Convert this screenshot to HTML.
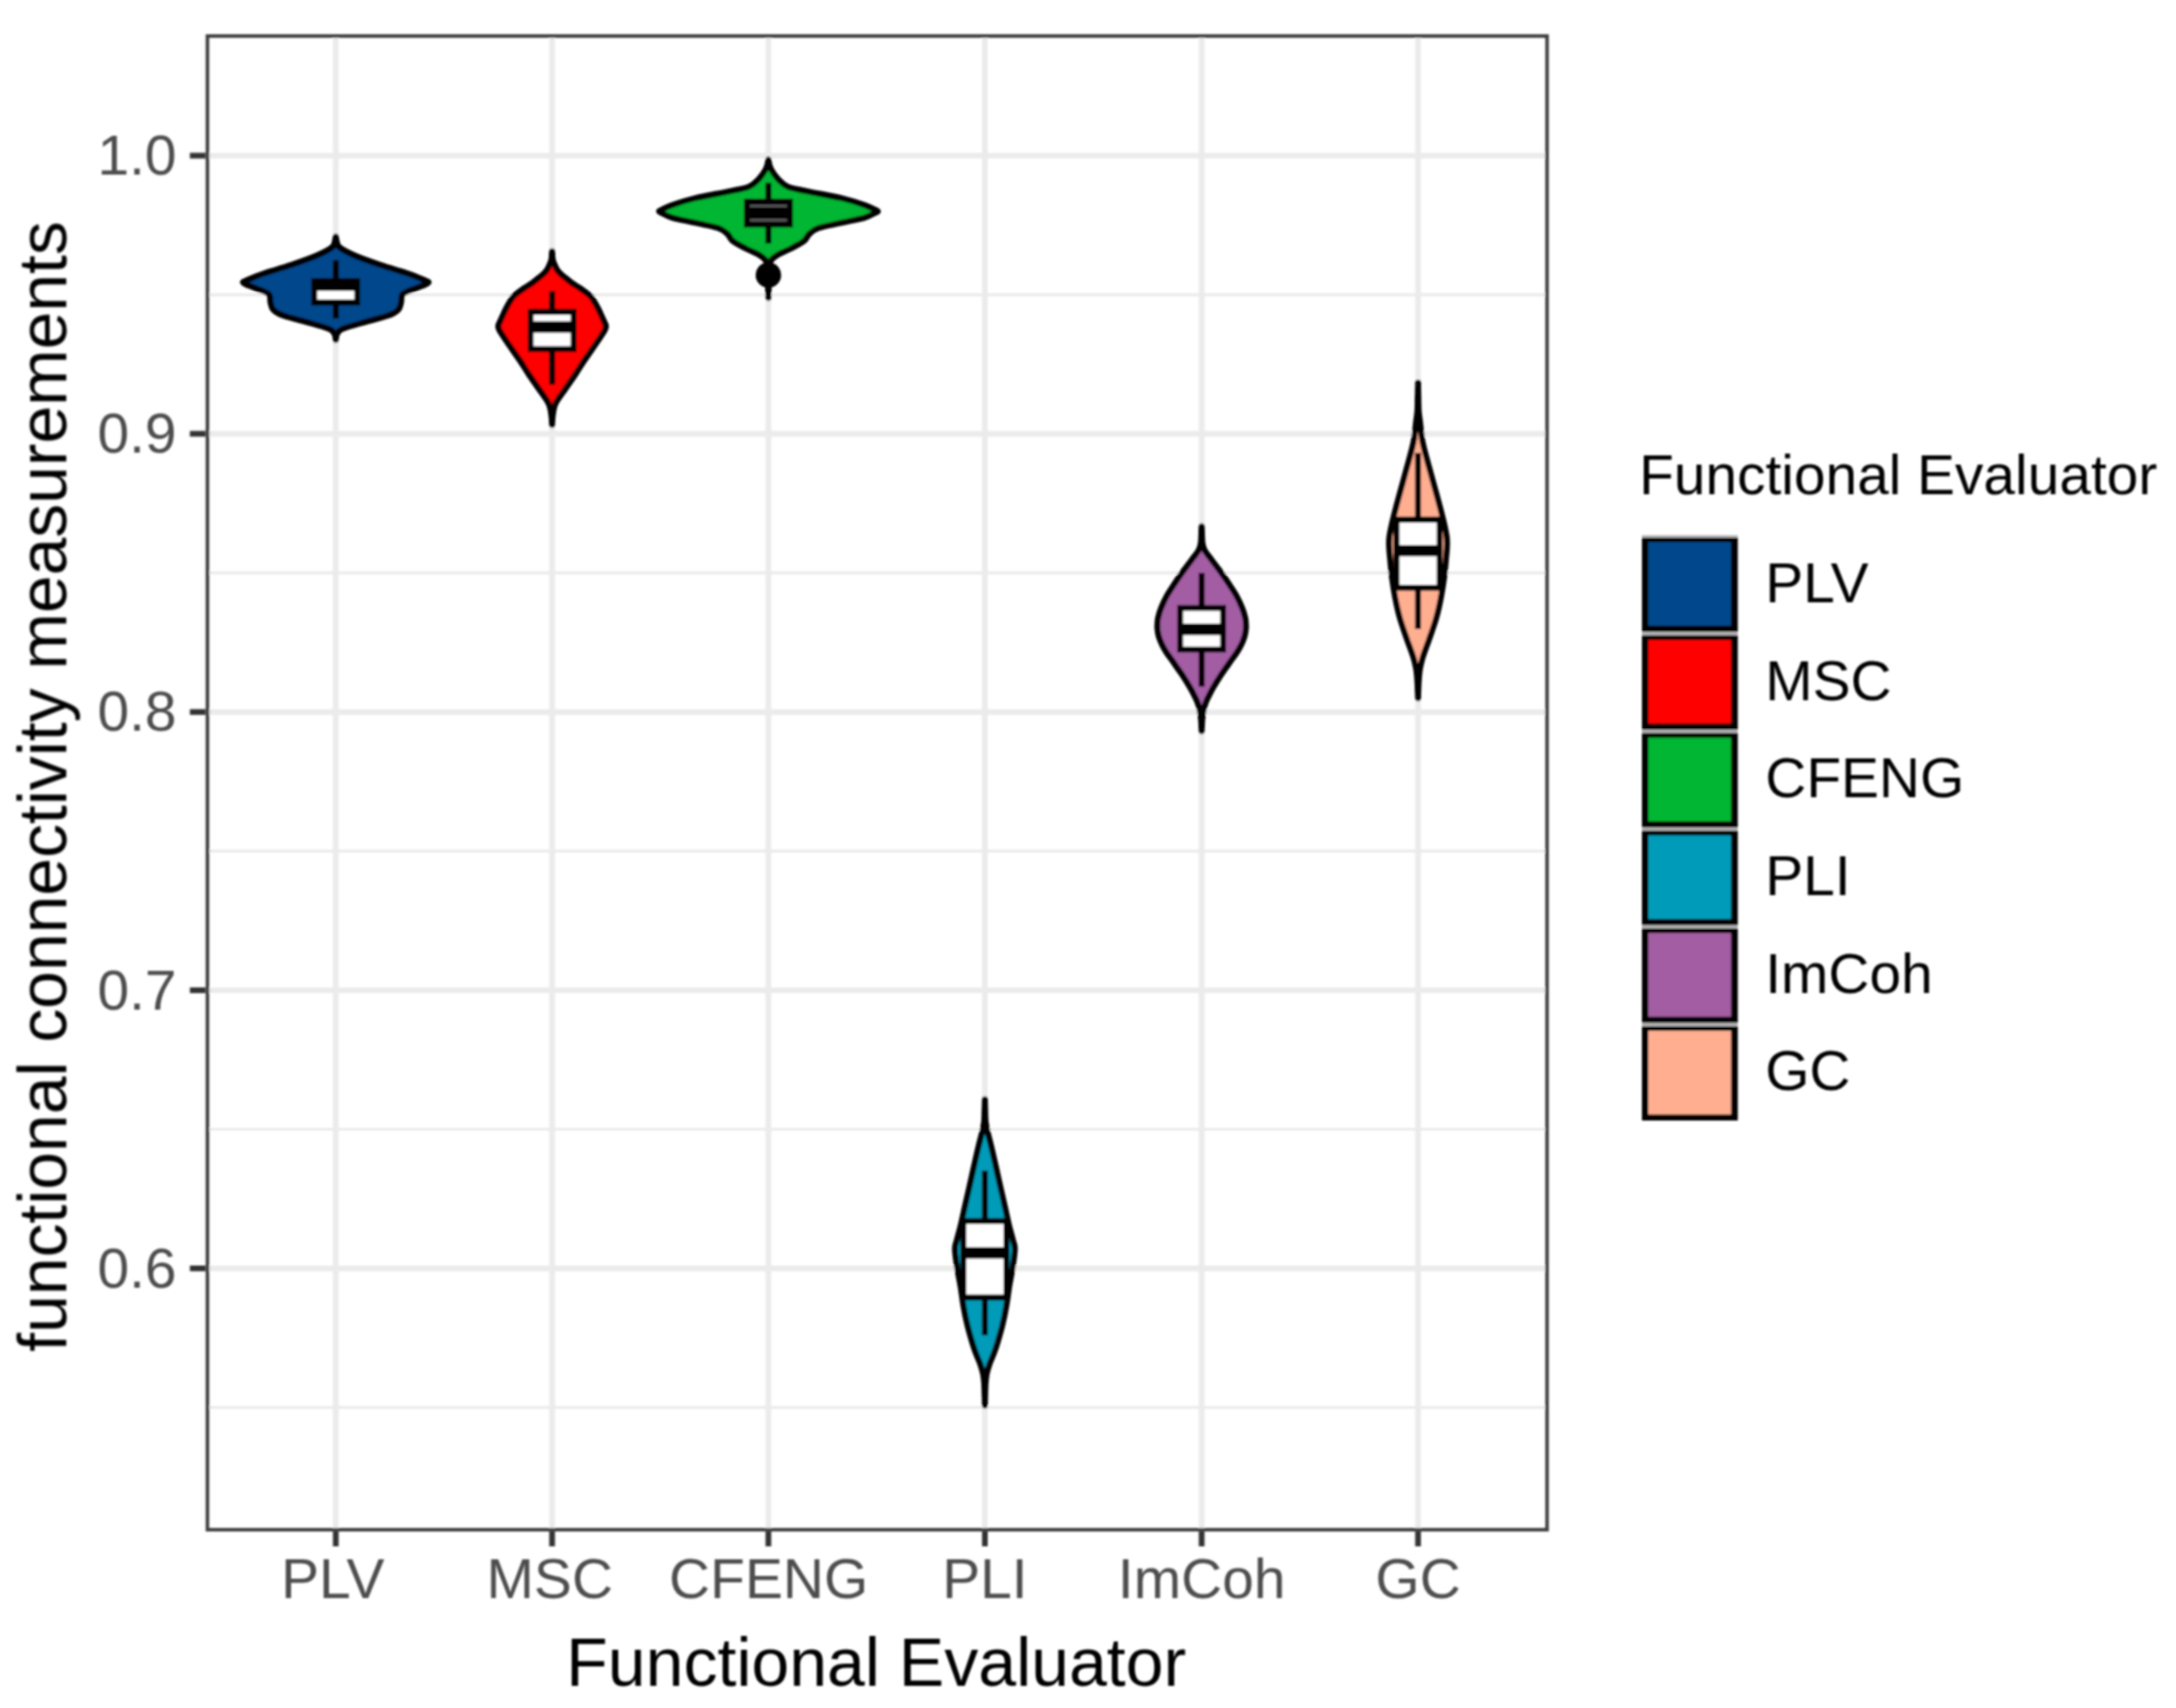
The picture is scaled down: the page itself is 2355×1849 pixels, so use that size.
<!DOCTYPE html>
<html lang="en"><head><meta charset="utf-8"><title>Functional connectivity measurements by Functional Evaluator</title>
<style>html,body{margin:0;padding:0;background:#fff}body{width:2355px;height:1849px;overflow:hidden}svg{display:block}text{font-family:"Liberation Sans",Arial,Helvetica,sans-serif}</style></head><body>
<svg width="2355" height="1849" viewBox="0 0 2355 1849">
<rect width="2355" height="1849" fill="#fff"/>
<defs><filter id="soft" x="-2%" y="-2%" width="104%" height="104%"><feGaussianBlur stdDeviation="0.9"/></filter></defs>
<g filter="url(#soft)">
<g stroke="#ebebeb" fill="none">
<line x1="224.5" x2="1674.3" y1="319.1" y2="319.1" stroke-width="3.2"/>
<line x1="224.5" x2="1674.3" y1="620.2" y2="620.2" stroke-width="3.2"/>
<line x1="224.5" x2="1674.3" y1="921.4" y2="921.4" stroke-width="3.2"/>
<line x1="224.5" x2="1674.3" y1="1222.5" y2="1222.5" stroke-width="3.2"/>
<line x1="224.5" x2="1674.3" y1="1523.7" y2="1523.7" stroke-width="3.2"/>
<line x1="224.5" x2="1674.3" y1="168.5" y2="168.5" stroke-width="6.2"/>
<line x1="224.5" x2="1674.3" y1="469.6" y2="469.6" stroke-width="6.2"/>
<line x1="224.5" x2="1674.3" y1="770.8" y2="770.8" stroke-width="6.2"/>
<line x1="224.5" x2="1674.3" y1="1072.0" y2="1072.0" stroke-width="6.2"/>
<line x1="224.5" x2="1674.3" y1="1373.1" y2="1373.1" stroke-width="6.2"/>
<line x1="363.4" x2="363.4" y1="39.0" y2="1656.0" stroke-width="6.2"/>
<line x1="597.5" x2="597.5" y1="39.0" y2="1656.0" stroke-width="6.2"/>
<line x1="831.6" x2="831.6" y1="39.0" y2="1656.0" stroke-width="6.2"/>
<line x1="1065.9" x2="1065.9" y1="39.0" y2="1656.0" stroke-width="6.2"/>
<line x1="1300.5" x2="1300.5" y1="39.0" y2="1656.0" stroke-width="6.2"/>
<line x1="1534.7" x2="1534.7" y1="39.0" y2="1656.0" stroke-width="6.2"/>
</g>
<path d="M363.4 256.0C363.6 257.0 363.9 260.0 364.6 262.0C365.3 264.0 364.5 265.5 367.7 267.9C370.9 270.3 376.2 273.3 383.7 276.5C391.1 279.7 402.8 283.8 412.4 287.0C422.0 290.2 433.1 293.2 441.2 296.0C449.3 298.8 457.2 302.4 461.0 304.0C464.8 305.6 463.8 305.1 463.7 305.8C463.6 306.5 462.9 306.9 460.4 308.0C457.8 309.1 452.5 310.9 448.4 312.7C444.3 314.4 438.3 316.0 435.9 318.5C433.5 321.0 434.8 324.9 434.0 327.7C433.2 330.5 433.2 333.2 430.9 335.5C428.6 337.8 427.1 339.2 420.4 341.6C413.6 344.0 398.8 347.5 390.4 350.0C382.0 352.5 374.2 354.4 369.9 356.4C365.6 358.4 365.7 360.1 364.6 362.0C363.5 363.9 363.6 367.0 363.4 368.0C363.2 367.0 363.3 363.9 362.2 362.0C361.1 360.1 361.2 358.4 356.9 356.4C352.6 354.4 344.8 352.5 336.4 350.0C328.0 347.5 313.1 344.0 306.4 341.6C299.6 339.2 298.2 337.8 295.9 335.5C293.6 333.2 293.6 330.5 292.8 327.7C292.0 324.9 293.3 321.0 290.9 318.5C288.5 316.0 282.5 314.4 278.4 312.7C274.3 310.9 268.9 309.1 266.4 308.0C263.8 306.9 263.2 306.5 263.1 305.8C263.0 305.1 262.0 305.6 265.8 304.0C269.5 302.4 277.5 298.8 285.6 296.0C293.7 293.2 304.8 290.2 314.4 287.0C324.0 283.8 335.6 279.7 343.1 276.5C350.5 273.3 355.9 270.3 359.1 267.9C362.3 265.5 361.5 264.0 362.2 262.0C362.9 260.0 363.2 257.0 363.4 256.0Z" fill="#00468B" stroke="#000" stroke-width="6.4" stroke-linejoin="round"/>
<path d="M597.5 272.0C597.5 272.7 597.7 274.7 597.8 276.0C597.9 277.3 597.9 278.8 598.1 280.0C598.3 281.2 598.6 282.4 599.0 283.5C599.4 284.6 599.8 285.4 600.3 286.5C600.8 287.6 601.2 288.9 602.0 290.3C602.8 291.7 603.7 293.1 605.0 294.6C606.3 296.1 607.6 297.2 609.9 299.1C612.2 301.0 615.6 303.9 618.7 306.1C621.8 308.3 625.2 310.2 628.5 312.5C631.8 314.8 635.8 317.5 638.2 319.7C640.6 321.9 641.3 323.5 642.8 325.9C644.3 328.3 646.2 331.6 647.4 333.9C648.6 336.2 649.1 337.6 650.0 339.5C650.9 341.4 651.7 343.2 652.5 345.0C653.3 346.8 654.2 348.6 654.8 350.0C655.3 351.4 655.8 351.9 655.8 353.2C655.8 354.4 655.5 355.6 654.5 357.5C653.5 359.4 652.4 361.1 650.1 364.5C647.9 367.9 644.1 373.4 641.0 377.9C637.9 382.4 634.6 386.9 631.6 391.4C628.6 395.9 626.0 400.4 623.0 404.9C620.0 409.4 616.8 413.9 613.7 418.4C610.6 422.9 606.4 428.7 604.3 431.8C602.2 434.9 602.0 435.2 601.1 437.2C600.2 439.2 599.6 441.5 599.1 444.0C598.6 446.5 598.3 449.3 598.0 452.0C597.7 454.7 597.6 458.7 597.5 460.0C597.4 458.7 597.3 454.7 597.0 452.0C596.7 449.3 596.4 446.5 595.9 444.0C595.4 441.5 594.8 439.2 593.9 437.2C593.0 435.2 592.8 434.9 590.7 431.8C588.6 428.7 584.4 422.9 581.3 418.4C578.2 413.9 575.0 409.4 572.0 404.9C569.0 400.4 566.4 395.9 563.4 391.4C560.4 386.9 557.1 382.4 554.0 377.9C550.9 373.4 547.1 367.9 544.9 364.5C542.6 361.1 541.5 359.4 540.5 357.5C539.5 355.6 539.2 354.4 539.2 353.2C539.2 351.9 539.7 351.4 540.2 350.0C540.8 348.6 541.7 346.8 542.5 345.0C543.3 343.2 544.1 341.4 545.0 339.5C545.9 337.6 546.4 336.2 547.6 333.9C548.8 331.6 550.7 328.3 552.2 325.9C553.7 323.5 554.4 321.9 556.8 319.7C559.2 317.5 563.2 314.8 566.5 312.5C569.8 310.2 573.2 308.3 576.3 306.1C579.4 303.9 582.8 301.0 585.1 299.1C587.4 297.2 588.7 296.1 590.0 294.6C591.3 293.1 592.2 291.7 593.0 290.3C593.8 288.9 594.2 287.6 594.7 286.5C595.2 285.4 595.6 284.6 596.0 283.5C596.4 282.4 596.7 281.2 596.9 280.0C597.1 278.8 597.1 277.3 597.2 276.0C597.3 274.7 597.5 272.7 597.5 272.0Z" fill="#FF0000" stroke="#000" stroke-width="6.4" stroke-linejoin="round"/>
<path d="M831.6 172.5C831.8 173.4 832.1 176.2 832.6 178.0C833.1 179.8 833.2 180.9 834.7 183.5C836.2 186.1 838.8 190.4 841.8 193.5C844.8 196.6 847.4 199.8 852.7 202.1C858.0 204.4 864.1 205.0 873.8 207.1C883.5 209.2 900.7 212.0 911.0 214.5C921.3 217.0 929.6 219.8 935.8 222.0C942.0 224.2 945.8 226.5 948.1 227.6C950.5 228.7 949.9 228.4 949.9 228.8C949.9 229.2 950.5 228.9 948.1 230.0C945.8 231.1 942.0 233.7 935.8 235.6C929.6 237.5 919.3 239.3 911.0 241.2C902.7 243.1 892.0 244.8 886.2 246.8C880.4 248.8 878.7 250.7 876.1 253.0C873.5 255.3 873.8 257.8 870.6 260.4C867.4 263.0 861.9 265.9 857.1 268.5C852.3 271.1 845.3 273.8 841.6 276.0C837.9 278.2 836.2 279.5 834.7 281.5C833.2 283.5 833.2 284.1 832.8 288.0C832.4 291.9 832.4 299.2 832.2 305.0C832.0 310.8 831.7 319.6 831.6 322.5C831.5 319.6 831.2 310.8 831.0 305.0C830.8 299.2 830.8 291.9 830.4 288.0C830.0 284.1 830.0 283.5 828.5 281.5C827.0 279.5 825.3 278.2 821.6 276.0C817.9 273.8 810.9 271.1 806.1 268.5C801.3 265.9 795.8 263.0 792.6 260.4C789.4 257.8 789.7 255.3 787.1 253.0C784.5 250.7 782.8 248.8 777.0 246.8C771.2 244.8 760.5 243.1 752.2 241.2C743.9 239.3 733.6 237.5 727.4 235.6C721.2 233.7 717.5 231.1 715.1 230.0C712.8 228.9 713.3 229.2 713.3 228.8C713.3 228.4 712.8 228.7 715.1 227.6C717.5 226.5 721.2 224.2 727.4 222.0C733.6 219.8 741.9 217.0 752.2 214.5C762.5 212.0 779.7 209.2 789.4 207.1C799.1 205.0 805.2 204.4 810.5 202.1C815.8 199.8 818.4 196.6 821.4 193.5C824.4 190.4 827.0 186.1 828.5 183.5C830.0 180.9 830.1 179.8 830.6 178.0C831.1 176.2 831.4 173.4 831.6 172.5Z" fill="#03B630" stroke="#000" stroke-width="6.4" stroke-linejoin="round"/>
<path d="M1065.9 1190.0C1066.0 1192.5 1066.2 1201.0 1066.3 1205.0C1066.4 1209.0 1066.4 1211.2 1066.7 1214.0C1067.0 1216.8 1067.5 1219.1 1068.1 1222.1C1068.7 1225.1 1069.6 1228.5 1070.5 1232.0C1071.4 1235.5 1072.0 1237.8 1073.3 1243.2C1074.6 1248.6 1076.5 1257.3 1078.1 1264.3C1079.7 1271.3 1081.2 1278.4 1082.8 1285.4C1084.4 1292.4 1086.0 1299.4 1087.6 1306.4C1089.2 1313.4 1090.8 1321.4 1092.3 1327.5C1093.8 1333.6 1095.4 1338.9 1096.4 1343.0C1097.4 1347.1 1098.4 1347.3 1098.3 1352.0C1098.3 1356.7 1097.1 1364.4 1096.1 1371.1C1095.1 1377.8 1093.5 1385.1 1092.3 1392.1C1091.2 1399.1 1090.4 1406.2 1089.2 1413.2C1088.0 1420.2 1086.6 1427.3 1084.9 1434.3C1083.2 1441.3 1080.6 1450.1 1079.0 1455.4C1077.4 1460.7 1076.6 1462.4 1075.3 1465.9C1074.0 1469.4 1072.2 1472.9 1071.0 1476.4C1069.8 1479.9 1068.6 1483.6 1067.9 1487.0C1067.2 1490.4 1067.0 1493.2 1066.7 1497.0C1066.4 1500.8 1066.3 1505.9 1066.2 1510.0C1066.1 1514.1 1066.0 1519.6 1065.9 1521.5C1065.9 1519.6 1065.7 1514.1 1065.6 1510.0C1065.5 1505.9 1065.4 1500.8 1065.1 1497.0C1064.8 1493.2 1064.6 1490.4 1063.9 1487.0C1063.2 1483.6 1062.0 1479.9 1060.8 1476.4C1059.6 1472.9 1057.8 1469.4 1056.5 1465.9C1055.2 1462.4 1054.4 1460.7 1052.8 1455.4C1051.2 1450.1 1048.6 1441.3 1046.9 1434.3C1045.2 1427.3 1043.8 1420.2 1042.6 1413.2C1041.4 1406.2 1040.7 1399.1 1039.5 1392.1C1038.3 1385.1 1036.7 1377.8 1035.7 1371.1C1034.7 1364.4 1033.5 1356.7 1033.5 1352.0C1033.5 1347.3 1034.4 1347.1 1035.4 1343.0C1036.4 1338.9 1038.0 1333.6 1039.5 1327.5C1041.0 1321.4 1042.6 1313.4 1044.2 1306.4C1045.8 1299.4 1047.4 1292.4 1049.0 1285.4C1050.6 1278.4 1052.1 1271.3 1053.7 1264.3C1055.3 1257.3 1057.2 1248.6 1058.5 1243.2C1059.8 1237.8 1060.4 1235.5 1061.3 1232.0C1062.2 1228.5 1063.1 1225.1 1063.7 1222.1C1064.3 1219.1 1064.8 1216.8 1065.1 1214.0C1065.4 1211.2 1065.4 1209.0 1065.5 1205.0C1065.6 1201.0 1065.8 1192.5 1065.9 1190.0Z" fill="#009BB8" stroke="#000" stroke-width="6.4" stroke-linejoin="round"/>
<path d="M1300.5 569.8C1300.6 571.5 1300.8 577.0 1300.9 580.0C1301.1 583.0 1301.0 585.5 1301.4 588.0C1301.8 590.5 1302.3 592.7 1303.5 595.1C1304.7 597.5 1305.8 598.7 1308.4 602.2C1311.0 605.7 1315.5 611.5 1318.9 616.2C1322.3 620.9 1325.7 625.6 1328.8 630.3C1331.9 635.0 1335.2 639.6 1337.8 644.3C1340.4 649.0 1342.8 654.3 1344.5 658.4C1346.2 662.5 1347.0 665.9 1347.7 669.0C1348.4 672.1 1348.3 675.2 1348.4 677.0C1348.5 678.8 1348.6 678.3 1348.4 680.0C1348.2 681.7 1348.0 684.6 1347.4 687.0C1346.9 689.4 1346.0 691.8 1345.1 694.1C1344.1 696.5 1343.0 698.8 1341.7 701.1C1340.4 703.4 1339.0 705.8 1337.4 708.1C1335.8 710.4 1334.0 712.8 1332.3 715.1C1330.6 717.5 1329.0 719.9 1327.4 722.2C1325.8 724.6 1324.1 726.9 1322.5 729.2C1320.9 731.5 1319.4 733.9 1317.9 736.2C1316.4 738.5 1315.1 740.9 1313.7 743.2C1312.3 745.6 1311.0 747.9 1309.8 750.3C1308.6 752.6 1307.3 755.0 1306.3 757.3C1305.3 759.6 1304.4 762.0 1303.7 764.3C1303.0 766.6 1302.5 768.7 1302.1 771.3C1301.7 773.9 1301.4 776.6 1301.1 780.0C1300.8 783.4 1300.6 789.6 1300.5 791.5C1300.4 789.6 1300.2 783.4 1299.9 780.0C1299.6 776.6 1299.3 773.9 1298.9 771.3C1298.5 768.7 1298.0 766.6 1297.3 764.3C1296.6 762.0 1295.7 759.6 1294.7 757.3C1293.7 755.0 1292.4 752.6 1291.2 750.3C1290.0 747.9 1288.7 745.6 1287.3 743.2C1285.9 740.9 1284.6 738.5 1283.1 736.2C1281.6 733.9 1280.1 731.5 1278.5 729.2C1276.9 726.9 1275.2 724.6 1273.6 722.2C1272.0 719.9 1270.4 717.5 1268.7 715.1C1267.0 712.8 1265.2 710.4 1263.6 708.1C1262.0 705.8 1260.6 703.4 1259.3 701.1C1258.0 698.8 1256.9 696.5 1255.9 694.1C1255.0 691.8 1254.1 689.4 1253.6 687.0C1253.0 684.6 1252.8 681.7 1252.6 680.0C1252.4 678.3 1252.5 678.8 1252.6 677.0C1252.7 675.2 1252.6 672.1 1253.3 669.0C1254.0 665.9 1254.8 662.5 1256.5 658.4C1258.2 654.3 1260.6 649.0 1263.2 644.3C1265.8 639.6 1269.1 635.0 1272.2 630.3C1275.3 625.6 1278.7 620.9 1282.1 616.2C1285.5 611.5 1290.0 605.7 1292.6 602.2C1295.2 598.7 1296.3 597.5 1297.5 595.1C1298.7 592.7 1299.2 590.5 1299.6 588.0C1300.0 585.5 1299.9 583.0 1300.1 580.0C1300.2 577.0 1300.4 571.5 1300.5 569.8Z" fill="#A25DA3" stroke="#000" stroke-width="6.4" stroke-linejoin="round"/>
<path d="M1534.7 414.3C1534.8 417.8 1535.0 429.7 1535.1 435.0C1535.2 440.3 1535.2 442.6 1535.5 446.0C1535.8 449.4 1536.0 450.3 1536.7 455.6C1537.4 460.9 1538.1 470.5 1539.5 477.9C1540.9 485.3 1543.2 492.7 1545.1 500.1C1547.1 507.5 1549.2 514.9 1551.2 522.3C1553.2 529.7 1555.3 537.2 1557.3 544.6C1559.2 552.0 1561.5 560.6 1562.9 566.8C1564.3 573.0 1565.3 577.8 1565.8 582.0C1566.3 586.2 1566.1 588.6 1566.0 592.0C1565.9 595.4 1565.7 596.8 1565.2 602.2C1564.7 607.6 1564.0 617.1 1563.0 624.5C1562.0 631.9 1560.9 639.3 1559.5 646.7C1558.1 654.1 1556.5 661.6 1554.4 669.0C1552.3 676.4 1548.9 685.7 1547.0 691.2C1545.1 696.8 1544.3 698.6 1543.0 702.3C1541.7 706.0 1540.2 709.8 1539.2 713.5C1538.2 717.2 1537.4 720.2 1536.7 724.6C1536.0 729.0 1535.6 734.8 1535.3 740.0C1535.0 745.2 1534.8 753.3 1534.7 756.0C1534.6 753.3 1534.4 745.2 1534.1 740.0C1533.8 734.8 1533.4 729.0 1532.7 724.6C1532.0 720.2 1531.2 717.2 1530.2 713.5C1529.2 709.8 1527.7 706.0 1526.4 702.3C1525.1 698.6 1524.3 696.8 1522.4 691.2C1520.5 685.7 1517.1 676.4 1515.0 669.0C1512.9 661.6 1511.3 654.1 1509.9 646.7C1508.5 639.3 1507.4 631.9 1506.4 624.5C1505.5 617.1 1504.7 607.6 1504.2 602.2C1503.7 596.8 1503.5 595.4 1503.4 592.0C1503.3 588.6 1503.1 586.2 1503.6 582.0C1504.1 577.8 1505.1 573.0 1506.5 566.8C1507.9 560.6 1510.2 552.0 1512.1 544.6C1514.1 537.2 1516.2 529.7 1518.2 522.3C1520.2 514.9 1522.3 507.5 1524.3 500.1C1526.2 492.7 1528.5 485.3 1529.9 477.9C1531.3 470.5 1532.0 460.9 1532.7 455.6C1533.4 450.3 1533.6 449.4 1533.9 446.0C1534.2 442.6 1534.2 440.3 1534.3 435.0C1534.4 429.7 1534.6 417.8 1534.7 414.3Z" fill="#FFAE90" stroke="#000" stroke-width="6.4" stroke-linejoin="round"/>
<g stroke="#000" stroke-width="6.4" fill="none">
<line x1="363.4" x2="363.4" y1="281.7" y2="304.3"/>
<line x1="363.4" x2="363.4" y1="327.5" y2="344.9"/>
<rect x="340.1" y="304.3" width="46.6" height="23.2" fill="#fff"/>
<line x1="340.1" x2="386.7" y1="308.6" y2="308.6" stroke-width="12.4"/>
</g>
<g stroke="#000" stroke-width="6.4" fill="none">
<line x1="597.5" x2="597.5" y1="315.3" y2="337.6"/>
<line x1="597.5" x2="597.5" y1="377.9" y2="416.3"/>
<rect x="574.2" y="337.6" width="46.6" height="40.3" fill="#fff"/>
<line x1="574.2" x2="620.8" y1="354.0" y2="354.0" stroke-width="12.4"/>
</g>
<g stroke="#000" stroke-width="6.4" fill="none">
<line x1="831.6" x2="831.6" y1="197.8" y2="218.3"/>
<line x1="831.6" x2="831.6" y1="243.0" y2="263.5"/>
<rect x="808.3" y="218.3" width="46.6" height="24.7" fill="#555"/>
<line x1="808.3" x2="854.9" y1="230.8" y2="230.8" stroke-width="12.4"/>
</g>
<g stroke="#000" stroke-width="6.4" fill="none">
<line x1="1065.9" x2="1065.9" y1="1267.4" y2="1321.9"/>
<line x1="1065.9" x2="1065.9" y1="1404.6" y2="1445.4"/>
<rect x="1042.6" y="1321.9" width="46.6" height="82.7" fill="#fff"/>
<line x1="1042.6" x2="1089.2" y1="1356.2" y2="1356.2" stroke-width="12.4"/>
</g>
<g stroke="#000" stroke-width="6.4" fill="none">
<line x1="1300.5" x2="1300.5" y1="620.3" y2="658.1"/>
<line x1="1300.5" x2="1300.5" y1="703.1" y2="743.3"/>
<rect x="1277.2" y="658.1" width="46.6" height="45.0" fill="#fff"/>
<line x1="1277.2" x2="1323.8" y1="681.3" y2="681.3" stroke-width="12.4"/>
</g>
<g stroke="#000" stroke-width="6.4" fill="none">
<line x1="1534.7" x2="1534.7" y1="490.4" y2="562.5"/>
<line x1="1534.7" x2="1534.7" y1="636.3" y2="681.0"/>
<rect x="1511.4" y="562.5" width="46.6" height="73.8" fill="#fff"/>
<line x1="1511.4" x2="1558.0" y1="596.1" y2="596.1" stroke-width="12.4"/>
</g>
<circle cx="831.6" cy="297.7" r="13.8" fill="#000"/>
<rect x="224.5" y="39.0" width="1449.8" height="1617.0" fill="none" stroke="#3d3d3d" stroke-width="3.8"/>
<g stroke="#333" stroke-width="6.2">
<line x1="205.5" x2="222.5" y1="168.5" y2="168.5"/>
<line x1="205.5" x2="222.5" y1="469.6" y2="469.6"/>
<line x1="205.5" x2="222.5" y1="770.8" y2="770.8"/>
<line x1="205.5" x2="222.5" y1="1072.0" y2="1072.0"/>
<line x1="205.5" x2="222.5" y1="1373.1" y2="1373.1"/>
<line x1="363.4" x2="363.4" y1="1658.0" y2="1674"/>
<line x1="597.5" x2="597.5" y1="1658.0" y2="1674"/>
<line x1="831.6" x2="831.6" y1="1658.0" y2="1674"/>
<line x1="1065.9" x2="1065.9" y1="1658.0" y2="1674"/>
<line x1="1300.5" x2="1300.5" y1="1658.0" y2="1674"/>
<line x1="1534.7" x2="1534.7" y1="1658.0" y2="1674"/>
</g>
<g font-size="61.6" fill="#4d4d4d">
<text x="191" y="189.1" text-anchor="end">1.0</text>
<text x="191" y="490.2" text-anchor="end">0.9</text>
<text x="191" y="791.4" text-anchor="end">0.8</text>
<text x="191" y="1092.6" text-anchor="end">0.7</text>
<text x="191" y="1393.7" text-anchor="end">0.6</text>
<text x="360.2" y="1729.8" text-anchor="middle">PLV</text>
<text x="595.0" y="1729.8" text-anchor="middle">MSC</text>
<text x="831.9" y="1729.8" text-anchor="middle">CFENG</text>
<text x="1065.9" y="1729.8" text-anchor="middle">PLI</text>
<text x="1300.5" y="1729.8" text-anchor="middle">ImCoh</text>
<text x="1534.7" y="1729.8" text-anchor="middle">GC</text>
</g>
<text x="948.3" y="1824.6" font-size="73.6" text-anchor="middle" fill="#000">Functional Evaluator</text>
<text transform="translate(71.7 851.4) rotate(-90)" font-size="73.4" text-anchor="middle" fill="#000">functional connectivity measurements</text>
<text x="1774" y="534.8" font-size="61.5" fill="#000">Functional Evaluator</text>
<rect x="1777.0" y="579.4" width="103.7" height="632.6" fill="#b4b4b4"/>
<rect x="1777.0" y="582.0" width="103.7" height="102.0" fill="#000"/>
<rect x="1783.9" y="586.9" width="89.6" height="90.6" fill="#00468B"/>
<text x="1910.5" y="652.2" font-size="61.5" fill="#000">PLV</text>
<rect x="1777.0" y="687.8" width="103.7" height="102.0" fill="#000"/>
<rect x="1783.9" y="692.7" width="89.6" height="90.6" fill="#FF0000"/>
<text x="1910.5" y="757.6" font-size="61.5" fill="#000">MSC</text>
<rect x="1777.0" y="793.6" width="103.7" height="102.0" fill="#000"/>
<rect x="1783.9" y="798.5" width="89.6" height="90.6" fill="#03B630"/>
<text x="1910.5" y="862.9" font-size="61.5" fill="#000">CFENG</text>
<rect x="1777.0" y="899.4" width="103.7" height="102.0" fill="#000"/>
<rect x="1783.9" y="904.3" width="89.6" height="90.6" fill="#009BB8"/>
<text x="1910.5" y="968.8" font-size="61.5" fill="#000">PLI</text>
<rect x="1777.0" y="1005.2" width="103.7" height="102.0" fill="#000"/>
<rect x="1783.9" y="1010.1" width="89.6" height="90.6" fill="#A25DA3"/>
<text x="1910.5" y="1075.0" font-size="61.5" fill="#000">ImCoh</text>
<rect x="1777.0" y="1111.0" width="103.7" height="102.0" fill="#000"/>
<rect x="1783.9" y="1115.9" width="89.6" height="90.6" fill="#FFAE90"/>
<text x="1910.5" y="1179.5" font-size="61.5" fill="#000">GC</text>
</g>
</svg></body></html>
